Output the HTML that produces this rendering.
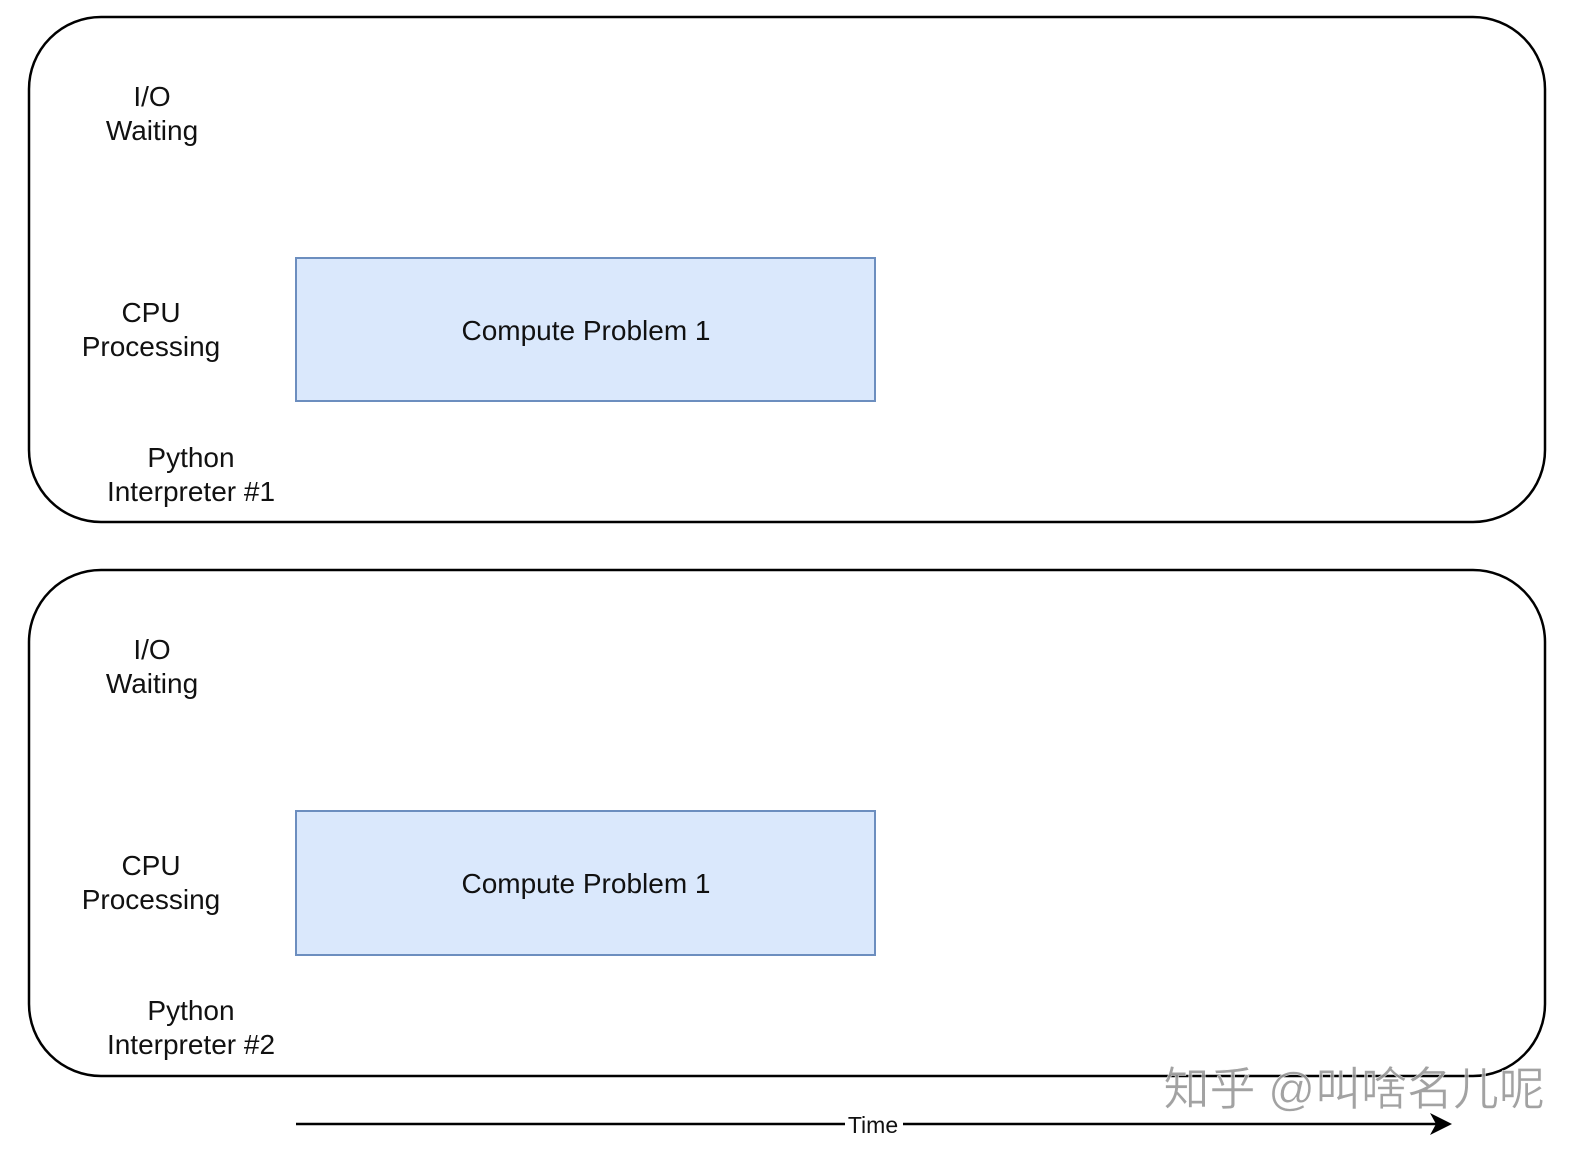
<!DOCTYPE html>
<html><head><meta charset="utf-8"><style>
html,body{margin:0;padding:0;background:#fff;}
</style></head><body>
<svg width="1584" height="1152" viewBox="0 0 1584 1152" xmlns="http://www.w3.org/2000/svg" font-family="Liberation Sans, Noto Sans CJK SC, sans-serif">
<g fill="none" stroke="#000" stroke-width="2.5">
<rect x="29" y="17" width="1516" height="505" rx="72" ry="72"/>
<rect x="29" y="570" width="1516" height="506" rx="72" ry="72"/>
</g>
<rect x="296" y="258" width="579" height="143" fill="#dae8fc" stroke="#6c8ebf" stroke-width="2"/>
<rect x="296" y="811" width="579" height="144" fill="#dae8fc" stroke="#6c8ebf" stroke-width="2"/>
<g font-size="28" fill="#111" text-anchor="middle">
<text x="586" y="340">Compute Problem 1</text>
<text x="586" y="893">Compute Problem 1</text>
<text x="152" y="106">I/O</text><text x="152" y="140">Waiting</text>
<text x="151" y="322">CPU</text><text x="151" y="356">Processing</text>
<text x="191" y="467">Python</text><text x="191" y="501">Interpreter #1</text>
<text x="152" y="659">I/O</text><text x="152" y="693">Waiting</text>
<text x="151" y="875">CPU</text><text x="151" y="909">Processing</text>
<text x="191" y="1020">Python</text><text x="191" y="1054">Interpreter #2</text>
</g>
<line x1="296" y1="1124" x2="1440" y2="1124" stroke="#000" stroke-width="2.5"/>
<polygon points="1452,1124 1430,1113 1436,1124 1430,1135" fill="#000"/>
<rect x="845" y="1112" width="58" height="24" fill="#fff"/>
<text x="873" y="1133" font-size="23" text-anchor="middle" fill="#111">Time</text>
<text x="1545" y="1105" font-size="46" text-anchor="end" fill="#999" opacity="0.9" stroke="#fff" stroke-width="0.5">知乎 @叫啥名儿呢</text>
</svg>
</body></html>
